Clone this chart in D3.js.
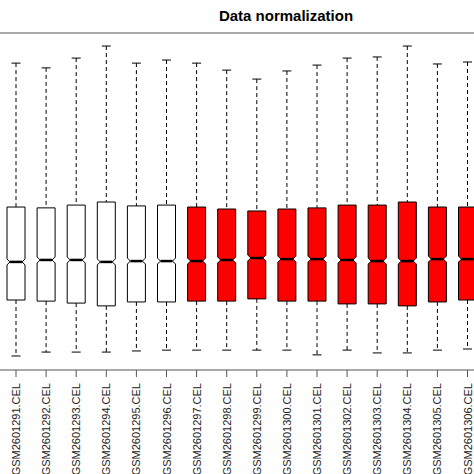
<!DOCTYPE html>
<html><head><meta charset="utf-8">
<script src="https://cdn.jsdelivr.net/npm/d3@7"></script>
<style>body{margin:0;background:#fff}</style>
</head><body><svg width="474" height="474"></svg>
<script>
var samples = d3.range(1291, 1307).map(function (n) { return "GSM260" + n + ".CEL"; });
var upper = [10.96,10.79,11.14,11.57,10.96,11.07,10.96,10.71,10.39,10.68,10.89,11.14,11.18,11.57,10.93,11.0];
var q3 = [5.82,5.79,5.89,6.0,5.86,5.89,5.82,5.75,5.68,5.75,5.79,5.89,5.89,6.0,5.82,5.82];
var median = [3.86,3.93,3.93,3.86,3.89,3.89,3.89,3.93,4.0,3.96,3.96,3.93,3.89,3.89,3.96,3.96];
var q1 = [2.5,2.46,2.39,2.29,2.43,2.43,2.46,2.46,2.54,2.46,2.46,2.36,2.36,2.29,2.43,2.5];
var lower = [0.5,0.64,0.64,0.64,0.68,0.71,0.71,0.71,0.71,0.71,0.54,0.71,0.61,0.61,0.71,0.75];
var groups = ["ctrl","ctrl","ctrl","ctrl","ctrl","ctrl","trt","trt","trt","trt","trt","trt","trt","trt","trt","trt"];

var svg = d3.select("svg");
var x = d3.scalePoint().domain(samples).range([16, 467.5]);
var y = d3.scaleLinear().domain([0, 12]).range([370, 34]);
var color = { ctrl: "#fff", trt: "#ff0000" };
var hw = 9, nw = 6, nh = 3;

svg.append("text").attr("x", 286).attr("y", 21).attr("text-anchor", "middle")
    .attr("font-family", "Liberation Sans, Arial").attr("font-weight", "bold")
    .attr("font-size", 15).text("Data normalization");

svg.append("line").attr("x1", 0).attr("x2", 474).attr("y1", 33).attr("y2", 33)
    .attr("stroke", "#555").attr("stroke-width", 1.2);
svg.append("line").attr("x1", 0).attr("x2", 474).attr("y1", 370).attr("y2", 370)
    .attr("stroke", "#555").attr("stroke-width", 1.2);

var g = svg.selectAll("g.box").data(samples).enter().append("g");

g.each(function (s, i) {
    var el = d3.select(this), cx = x(s);
    el.append("line").attr("x1", cx).attr("x2", cx).attr("y1", y(upper[i])).attr("y2", y(q3[i]))
        .attr("stroke", "#000").attr("stroke-dasharray", "4,3");
    el.append("line").attr("x1", cx).attr("x2", cx).attr("y1", y(q1[i])).attr("y2", y(lower[i]))
        .attr("stroke", "#000").attr("stroke-dasharray", "4,3");
    [upper[i], lower[i]].forEach(function (v) {
        el.append("line").attr("x1", cx - 4.5).attr("x2", cx + 4.5).attr("y1", y(v)).attr("y2", y(v))
            .attr("stroke", "#000");
    });
    var m = y(median[i]);
    var pts = [[cx - hw, y(q3[i])], [cx + hw, y(q3[i])], [cx + hw, m - nh], [cx + nw, m], [cx + hw, m + nh],
        [cx + hw, y(q1[i])], [cx - hw, y(q1[i])], [cx - hw, m + nh], [cx - nw, m], [cx - hw, m - nh]];
    el.append("polygon").attr("points", pts.map(function (p) { return p.join(","); }).join(" "))
        .attr("fill", color[groups[i]]).attr("stroke", "#000").attr("stroke-width", 1);
    el.append("line").attr("x1", cx - nw).attr("x2", cx + nw).attr("y1", m).attr("y2", m)
        .attr("stroke", "#000").attr("stroke-width", 2.5);
    el.append("line").attr("x1", cx).attr("x2", cx).attr("y1", 370).attr("y2", 377).attr("stroke", "#555");
    el.append("text").attr("transform", "translate(" + (cx + 4) + ",383) rotate(-90)")
        .attr("text-anchor", "end").attr("font-family", "Liberation Sans, Arial").attr("font-size", 11)
        .attr("fill", "#222").text(s);
});
</script></body></html>
